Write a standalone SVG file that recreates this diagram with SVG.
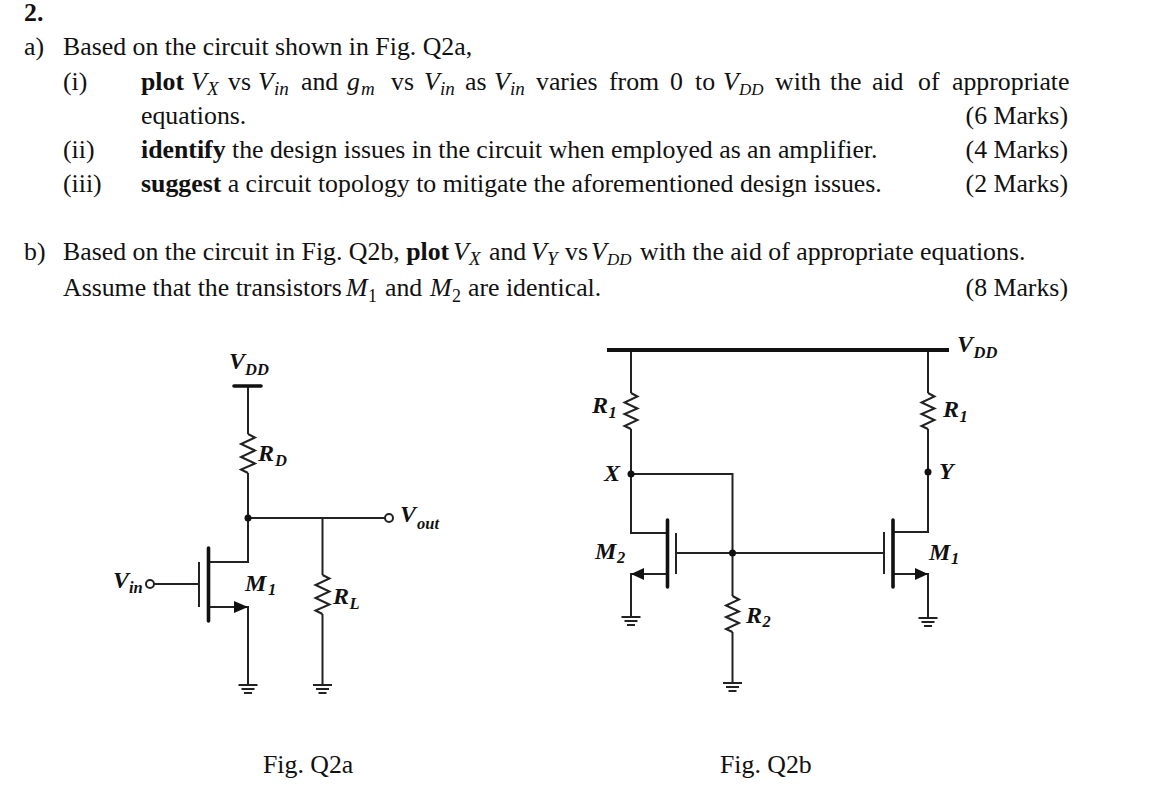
<svg xmlns="http://www.w3.org/2000/svg" xmlns:xlink="http://www.w3.org/1999/xlink" width="1163" height="802" viewBox="0 0 1163 802">
<style>
text{font-family:"Liberation Serif","Times New Roman",serif;fill:#111}
.t{font-size:25.8px}
.b{font-weight:bold}
.i{font-style:italic}
.s{font-size:19px;font-style:italic}
.d{font-size:17px;font-style:italic}
.n{font-size:18px}
.l{font-size:24px;font-weight:bold;font-style:italic}
.ls{font-size:16.5px;font-weight:bold;font-style:italic}
.w{fill:none;stroke:#222;stroke-width:2}
.rail{fill:none;stroke:#111;stroke-width:4}
.ch{fill:none;stroke:#111;stroke-width:3.6;stroke-linecap:round}
.pin{fill:#fff;stroke:#222;stroke-width:2}
.dot{fill:#111}
</style>
<defs>
<g id="gnd"><path class="w" d="M-9.500 0H9.500M-6.500 4H6.500M-4 8H4"/></g>
<g id="res"><path class="w" d="M0 0L7 3.500L-7 10L7 16.500L-7 23L7 29.500L-7 35.500L0 39"/></g>
<g id="resb"><path class="w" d="M0 0L6.500 3.500L-6.500 9.500L6.500 15.500L-6.500 21L6.500 27L-6.500 33L0 36"/></g>
</defs>
<g id="question">
<text class="t b" x="24" y="21">2.</text>
<text class="t" x="24" y="55">a)</text>
<text class="t" x="63" y="55">Based on the circuit shown in Fig. Q2a,</text>
<text class="t" x="63" y="90">(i)</text>
<text class="t b" x="141" y="90">plot</text>
<text class="t i" x="191" y="90">V</text><text class="s" x="207" y="95">X</text>
<text class="t" x="228" y="90">vs</text>
<text class="t i" x="258" y="90">V</text><text class="s" x="274" y="95">in</text>
<text class="t" x="301" y="90">and</text>
<text class="t i" x="347" y="90">g</text><text class="s" x="361" y="95">m</text>
<text class="t" x="391" y="90">vs</text>
<text class="t i" x="424" y="90">V</text><text class="s" x="440" y="95">in</text>
<text class="t" x="465" y="90">as</text>
<text class="t i" x="494" y="90">V</text><text class="s" x="510" y="95">in</text>
<text class="t" x="536" y="90">varies</text>
<text class="t" x="609" y="90">from</text>
<text class="t" x="670" y="90">0</text>
<text class="t" x="695" y="90">to</text>
<text class="t i" x="723" y="90">V</text><text class="d" x="739" y="95">DD</text>
<text class="t" x="775" y="90">with</text>
<text class="t" x="830" y="90">the</text>
<text class="t" x="872" y="90">aid</text>
<text class="t" x="918" y="90">of</text>
<text class="t" x="952" y="90">appropriate</text>
<text class="t" x="141" y="124">equations.</text>
<text class="t" x="1068" y="124" text-anchor="end">(6 Marks)</text>
<text class="t" x="63" y="158">(ii)</text>
<text class="t" x="141" y="158"><tspan class="b">identify</tspan> the design issues in the circuit when employed as an amplifier.</text>
<text class="t" x="1068" y="158" text-anchor="end">(4 Marks)</text>
<text class="t" x="63" y="192">(iii)</text>
<text class="t" x="141" y="192"><tspan class="b">suggest</tspan> a circuit topology to mitigate the aforementioned design issues.</text>
<text class="t" x="1068" y="192" text-anchor="end">(2 Marks)</text>
<text class="t" x="24" y="260">b)</text>
<text class="t" x="63" y="260">Based on the circuit in Fig. Q2b, <tspan class="b">plot</tspan></text>
<text class="t i" x="453" y="260">V</text><text class="s" x="469" y="265">X</text>
<text class="t" x="489" y="260">and</text>
<text class="t i" x="531" y="260">V</text><text class="s" x="547" y="265">Y</text>
<text class="t" x="565" y="260">vs</text>
<text class="t i" x="591" y="260">V</text><text class="d" x="607" y="265">DD</text>
<text class="t" x="640" y="260">with the aid of appropriate equations.</text>
<text class="t" x="63" y="296">Assume that the transistors</text>
<text class="t i" x="346" y="296">M</text><text class="n" x="368" y="302">1</text>
<text class="t" x="385" y="296">and</text>
<text class="t i" x="430" y="296">M</text><text class="n" x="452" y="302">2</text>
<text class="t" x="468" y="296">are identical.</text>
<text class="t" x="1068" y="296" text-anchor="end">(8 Marks)</text>
<text class="t" x="263" y="773">Fig. Q2a</text>
<text class="t" x="720" y="773">Fig. Q2b</text>
</g>
<g id="connectors">
<path class="w" d="M248 386V434M248 473V562H209M209 607H248V685M248 518H385M322.500 518V575M322.500 614V685M154 584H199"/>
<path class="w" d="M631 350V393M631 429V533H667M667 574H631V617M631 474H732.500V596M732.500 632V683M928 350V393M928 429V532H893M893 574H928V618M676 553H884"/>
</g>
<g id="fig-a">
<path id="vdd-a" class="ch" d="M234 386H261"/>
<use id="rd" href="#res" xlink:href="#res" x="248" y="434"/>
<use id="rl" href="#res" xlink:href="#res" x="322.500" y="575"/>
<g id="m1-a">
<path class="ch" d="M208.500 548V621"/>
<path class="w" d="M199 562V607"/>
<path class="dot" d="M248 607L234 601V613Z"/>
</g>
<use href="#gnd" xlink:href="#gnd" x="248" y="685"/>
<use href="#gnd" xlink:href="#gnd" x="322.500" y="685"/>
<circle class="dot" cx="248" cy="518" r="3.500"/>
<circle class="pin" cx="389" cy="518" r="4"/>
<circle class="pin" cx="150" cy="584" r="4"/>
<text class="l" x="229" y="369">V</text><text class="ls" x="245" y="375">DD</text>
<text class="l" x="258" y="461">R</text><text class="ls" x="275" y="466">D</text>
<text class="l" x="400" y="522">V</text><text class="ls" x="417" y="529">out</text>
<text class="l" x="113" y="588">V</text><text class="ls" x="129" y="593">in</text>
<text class="l" x="245" y="591">M</text><text class="ls" x="268" y="595">1</text>
<text class="l" x="333" y="604">R</text><text class="ls" x="349.500" y="609">L</text>
</g>
<g id="fig-b">
<path id="vdd-rail" class="rail" d="M607 350H949"/>
<use id="r1-left" href="#resb" xlink:href="#resb" x="631" y="393"/>
<use id="r1-right" href="#resb" xlink:href="#resb" x="928" y="393"/>
<use id="r2" href="#resb" xlink:href="#resb" x="732.500" y="596"/>
<g id="m2">
<path class="ch" d="M667.500 520V587"/>
<path class="w" d="M676 533V574"/>
<path class="dot" d="M631 574L644 568V580Z"/>
</g>
<g id="m1-b">
<path class="ch" d="M893 520V587"/>
<path class="w" d="M884 532V574"/>
<path class="dot" d="M928 574L915 568V580Z"/>
</g>
<use href="#gnd" xlink:href="#gnd" x="631" y="617"/>
<use href="#gnd" xlink:href="#gnd" x="928" y="618"/>
<use href="#gnd" xlink:href="#gnd" x="732.500" y="683"/>
<circle class="dot" cx="631" cy="474" r="3.500"/>
<circle class="dot" cx="928" cy="472" r="3.500"/>
<circle class="dot" cx="732.500" cy="553" r="3.500"/>
<text class="l" x="957" y="352">V</text><text class="ls" x="973.500" y="358">DD</text>
<text class="l" x="592" y="413">R</text><text class="ls" x="608.500" y="418">1</text>
<text class="l" x="943" y="417">R</text><text class="ls" x="959.500" y="422">1</text>
<text class="l" x="604" y="481">X</text>
<text class="l" x="939" y="479">Y</text>
<text class="l" x="595" y="559">M</text><text class="ls" x="617" y="563">2</text>
<text class="l" x="929" y="560">M</text><text class="ls" x="951" y="564">1</text>
<text class="l" x="746" y="623">R</text><text class="ls" x="762.500" y="627">2</text>
</g>
</svg>
